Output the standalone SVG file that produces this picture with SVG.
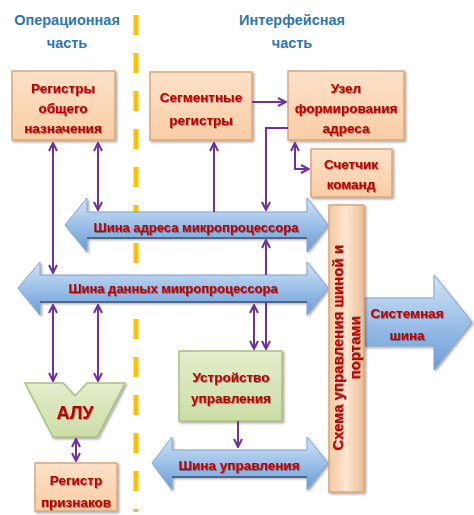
<svg xmlns="http://www.w3.org/2000/svg" width="474" height="515" viewBox="0 0 474 515">
<defs>
<linearGradient id="gPeach" x1="0" y1="0" x2="0" y2="1">
<stop offset="0" stop-color="#FDE1C8"/><stop offset="1" stop-color="#F9CDA5"/>
</linearGradient>
<linearGradient id="gGreen" x1="0" y1="0" x2="0" y2="1">
<stop offset="0" stop-color="#E3EDCB"/><stop offset="1" stop-color="#CCDDA6"/>
</linearGradient>
<linearGradient id="gBlue" x1="0" y1="0" x2="0" y2="1">
<stop offset="0" stop-color="#D3E3F5"/><stop offset="0.5" stop-color="#9CC0E8"/><stop offset="1" stop-color="#6A9BD6"/>
</linearGradient>
<linearGradient id="gVert" x1="0" y1="0" x2="1" y2="0">
<stop offset="0" stop-color="#F3C9A3"/><stop offset="0.5" stop-color="#FDE6D0"/><stop offset="1" stop-color="#EBBE96"/>
</linearGradient>
<filter id="sh" x="-10%" y="-10%" width="130%" height="130%">
<feDropShadow dx="1.5" dy="1.5" stdDeviation="1.2" flood-color="#000" flood-opacity="0.35"/>
</filter>
<filter id="tsh" x="-5%" y="-20%" width="110%" height="140%">
<feDropShadow dx="0.8" dy="0.8" stdDeviation="0.4" flood-color="#000" flood-opacity="0.45"/>
</filter>
<marker id="ah" viewBox="0 0 10 10" refX="9" refY="5" markerWidth="10" markerHeight="10" markerUnits="userSpaceOnUse" orient="auto-start-reverse">
<path d="M1,1 L9,5 L1,9" fill="none" stroke="#7030A0" stroke-width="2" stroke-linejoin="miter"/>
</marker>
<style>
.box{fill:url(#gPeach);stroke:#D9A77C;stroke-width:1.5;filter:url(#sh)}
.gbox{fill:url(#gGreen);stroke:#A9BF7E;stroke-width:1.5;filter:url(#sh)}
.bus{fill:url(#gBlue);stroke:#7EA3CF;stroke-width:1;filter:url(#sh)}
.lbl{font-family:"Liberation Sans",Arial,sans-serif;font-weight:bold;font-size:13.5px;fill:#C00000;text-anchor:middle;filter:url(#tsh)}
.ttl{font-family:"Liberation Sans",Arial,sans-serif;font-weight:bold;font-size:14.5px;fill:#2E75B6;text-anchor:middle}
.con{fill:none;stroke:#7030A0;stroke-width:2}
.bi{marker-start:url(#ah);marker-end:url(#ah)}
.one{marker-end:url(#ah)}
</style>
</defs>
<rect width="474" height="515" fill="#FFFFFF"/>

<g id="titles">
<text class="ttl" x="67" y="25">Операционная</text>
<text class="ttl" x="67" y="48">часть</text>
<text class="ttl" x="292" y="25">Интерфейсная</text>
<text class="ttl" x="292" y="48">часть</text>
</g>

<g id="divider">
<line x1="136" y1="15" x2="136" y2="512" stroke="#FFC000" stroke-width="5" stroke-dasharray="20 18"/>
</g>

<g id="bus-address">
<polygon class="bus" points="65,225 87,198 87,212 307,212 307,198 328,225 307,252 307,238 87,238 87,252"/>
<line x1="87" y1="238" x2="307" y2="238" stroke="#3B4F6E" stroke-width="1.5"/>
<text class="lbl" x="196" y="232" style="font-size:13px">Шина адреса микропроцессора</text>
</g>

<g id="bus-data">
<polygon class="bus" points="18,288 40,262 40,275 307,275 307,262 328,288 307,315 307,302 40,302 40,315"/>
<line x1="40" y1="302" x2="307" y2="302" stroke="#3B4F6E" stroke-width="1.5"/>
<text class="lbl" x="173" y="293" style="font-size:13px">Шина данных микропроцессора</text>
</g>

<g id="bus-control">
<polygon class="bus" points="152,463 172,437 172,450 307,450 307,437 328,463 307,490 307,477 172,477 172,490"/>
<line x1="172" y1="477" x2="307" y2="477" stroke="#3B4F6E" stroke-width="1.5"/>
<text class="lbl" x="239" y="470">Шина управления</text>
</g>

<g id="bus-system">
<polygon class="bus" points="364,298 434,298 434,275 472,322 434,370 434,346 364,346"/>
<text class="lbl" x="407" y="318">Системная</text>
<text class="lbl" x="407" y="340">шина</text>
</g>

<g id="reg-general">
<rect class="box" x="12" y="71" width="103" height="69"/>
<text class="lbl" x="63" y="93">Регистры</text>
<text class="lbl" x="63" y="113">общего</text>
<text class="lbl" x="63" y="133">назначения</text>
</g>

<g id="reg-segment">
<rect class="box" x="150" y="72" width="102" height="68"/>
<text class="lbl" x="201" y="102">Сегментные</text>
<text class="lbl" x="201" y="125">регистры</text>
</g>

<g id="addr-unit">
<rect class="box" x="288" y="71" width="116" height="69"/>
<text class="lbl" x="346" y="93">Узел</text>
<text class="lbl" x="346" y="113">формирования</text>
<text class="lbl" x="346" y="133">адреса</text>
</g>

<g id="counter">
<rect class="box" x="311" y="149" width="81" height="48"/>
<text class="lbl" x="351" y="169">Счетчик</text>
<text class="lbl" x="351" y="189">команд</text>
</g>

<g id="bus-ctrl-scheme">
<rect x="329" y="205" width="35" height="287" fill="url(#gVert)" stroke="#D9A77C" stroke-width="1.5" filter="url(#sh)"/>
<text class="lbl" transform="translate(343,348) rotate(-90)" style="font-size:15px">Схема управления шиной и</text>
<text class="lbl" transform="translate(360,348) rotate(-90)" style="font-size:15px">портами</text>
</g>

<g id="control-unit">
<rect class="gbox" x="179" y="351" width="103" height="70"/>
<text class="lbl" x="231" y="382">Устройство</text>
<text class="lbl" x="231" y="403">управления</text>
</g>

<g id="alu">
<polygon class="gbox" points="25,383 63,383 75,396 87,383 125,383 97,437 53,437"/>
<text class="lbl" x="75" y="419" style="font-size:18px">АЛУ</text>
</g>

<g id="flags">
<rect class="box" x="35" y="463" width="82" height="48"/>
<text class="lbl" x="76" y="485">Регистр</text>
<text class="lbl" x="76" y="507">признаков</text>
</g>

<g id="connectors">
<path class="con bi" d="M53,143 L53,273"/>
<path class="con bi" d="M98,143 L98,210"/>
<path class="con bi" d="M53,305 L53,381"/>
<path class="con bi" d="M98,305 L98,381"/>
<path class="con bi" d="M76,439 L76,461"/>
<path class="con one" d="M214,212 L214,143"/>
<path class="con one" d="M252,102 L286,102"/>
<path class="con one" d="M288,128 L266,128 L266,210"/>
<path class="con bi" d="M295,143 L295,169 L309,169"/>
<path class="con one" d="M266,275 L266,240"/>
<path class="con bi" d="M254,305 L254,349"/>
<path class="con one" d="M266,302 L266,349"/>
<path class="con one" d="M238,421 L238,447"/>
</g>
</svg>
